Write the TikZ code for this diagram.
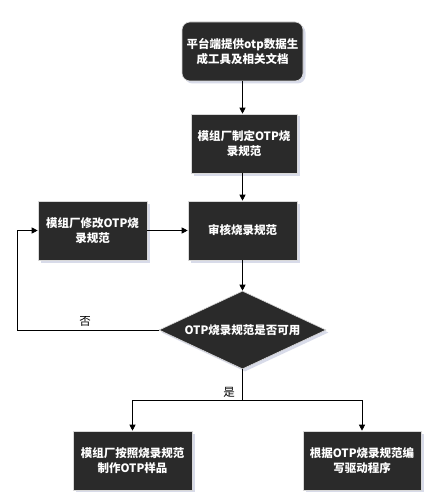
\documentclass[tikz,border=0pt]{standalone}
\usepackage{fontspec}
\setmainfont{Noto Sans CJK SC}
\usetikzlibrary{shapes.geometric,arrows.meta,shadows}
\definecolor{boxfill}{HTML}{2A2A2A}
\definecolor{boxline}{HTML}{D8D8D8}
\definecolor{shadowc}{HTML}{C8CCE0}
\tikzset{
  box/.style={draw=boxline, line width=0.6pt, fill=boxfill, text=white, font=\fontsize{11.5}{15}\selectfont\bfseries,
    align=center, inner sep=0pt,
    drop shadow={shadow xshift=2.5pt, shadow yshift=-2.5pt, fill=shadowc, opacity=0.7}},
  rbox/.style={box, rounded corners=8pt},
  decision/.style={box, diamond, aspect=2.14},
  conn/.style={draw=black, line width=0.8pt, -{Triangle[length=6pt,width=6pt]}},
  lbl/.style={fill=white, inner sep=1pt, font=\fontsize{11.5}{12}\selectfont}
}
\begin{document}
\begin{tikzpicture}[x=1pt,y=-1pt]
\useasboundingbox (0,0) rectangle (437,492);
\node[rbox, minimum width=121pt, minimum height=59pt] (n1) at (242.5,51.5) {平台端提供otp数据生\\成工具及相关文档};
\node[box, minimum width=106pt, minimum height=59pt] (n2) at (244,143.5) {模组厂制定OTP烧\\录规范};
\node[box, minimum width=109pt, minimum height=59pt] (n3) at (242.5,230.5) {审核烧录规范};
\node[box, minimum width=109pt, minimum height=59pt] (n4) at (92.5,230.5) {模组厂修改OTP烧\\录规范};
\node[decision, minimum width=167pt, minimum height=78pt] (d) at (242.5,330) {OTP烧录规范是否可用};
\node[box, minimum width=119pt, minimum height=59pt] (n5) at (132.5,460.5) {模组厂按照烧录规范\\制作OTP样品};
\node[box, minimum width=118pt, minimum height=59pt] (n6) at (362,460.5) {根据OTP烧录规范编\\写驱动程序};
\coordinate (loopc) at (17,330);
\coordinate (split) at (242.5,400);
\draw[conn] (n1.south) -- (n1.south |- n2.north);
\draw[conn] (n2.south -| n3.north) -- (n3.north);
\draw[conn] (n4.east) -- (n3.west);
\draw[conn] (n3.south) -- (d.north);
\draw[conn] (d.west) -- (loopc) |- (n4.west);
\node[lbl] (no) at (85,321) {否};
\draw[line width=0.8pt] (d.south) -- (split);
\draw[conn] (split) -| (n5.north);
\draw[conn] (split) -| (n6.north);
\node[lbl] (yes) at (229,392) {是};
\end{tikzpicture}
\end{document}
